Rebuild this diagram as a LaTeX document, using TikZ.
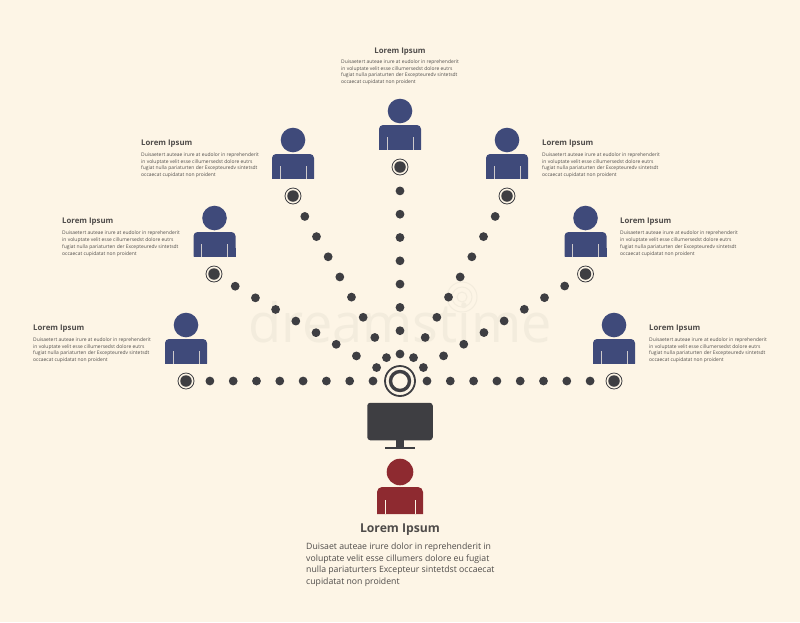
\documentclass[tikz,border=0pt]{standalone}
\usepackage{fontspec}
\setmainfont{Open Sans}
\definecolor{paper}{HTML}{FDF5E6}
\definecolor{ink}{HTML}{3E3E42}
\definecolor{copytext}{HTML}{4F4C4A}
\definecolor{navy}{HTML}{3F4A7A}
\definecolor{crimson}{HTML}{8E2A30}
\definecolor{ghost}{HTML}{F3ECDD}
\tikzset{
    ringouter/.style={circle, draw=ink, line width=0.8pt, fill=paper, minimum size=16pt, inner sep=0pt, outer sep=0pt},
    ringdisc/.style={circle, fill=ink, minimum size=11.5pt, inner sep=0pt, outer sep=0pt},
    hubouter/.style={circle, draw=ink, line width=1.8pt, fill=paper, minimum size=30pt, inner sep=0pt, outer sep=0pt},
    hubinner/.style={circle, draw=ink, line width=3.4pt, fill=paper, minimum size=19pt, inner sep=0pt, outer sep=0pt},
    dotray/.style={draw=ink, line width=8.8pt, line cap=round, dash pattern=on 0pt off 23.3pt, dash phase=11.3pt},
    headline/.style={font=\bfseries\fontsize{7.8}{9}\selectfont, text=copytext, inner sep=0pt},
    blurb/.style={font=\fontsize{4.95}{6.7}\selectfont, text=copytext, align=left, inner sep=0pt},
}
\newcommand{\smallblurb}{Duisaetert auteae irure at eudolor in reprehenderit\\in voluptate velit esse cillumersedst dolore eutrs\\fugiat nulla pariaturten der Excepteuredv sintetsdt\\occaecat cupidatat non proident}
\begin{document}
\begin{tikzpicture}[x=1pt, y=-1pt]
    \fill[paper] (0,0) rectangle (800,622);
    \useasboundingbox (0,0) rectangle (800,622);

    % faint mark behind the rays
    \node[font=\fontsize{54}{58}\selectfont, text=ghost, inner sep=0pt] (mark) at (400,322) {dreamstime};
    \foreach \rad in {5,10,15}
        \draw[ghost, line width=1pt] (462,297) circle (\rad);

    % hub and rings
    \node[hubouter] (hub) at (400,381) {};
    \node[hubinner] (hubcore) at (hub) {};
    \foreach \n/\x/\y in {a/186/381, b/214/274, c/293/196, d/400/167, e/507/196, f/585.5/274, g/614/381} {
        \node[ringouter] (ring\n) at (\x,\y) {};
        \node[ringdisc] (disc\n) at (ring\n) {};
        \draw[dotray] (hub) -- (ring\n);
    }

    % persons
    \foreach \px/\py in {186/325, 214.5/218, 293/140, 400/111, 507/140, 585.5/218, 614/325} {
        \begin{scope}[shift={(\px,\py)}]
            \fill[navy] (0,0) circle (12.3);
            \fill[navy, rounded corners=4pt] (-21,38.5) |- (21,14) [sharp corners] -- (21,38.5) -- cycle;
            \fill[navy] (-21,30) rectangle (21,38.5);
            \draw[paper!75!navy, line width=0.8pt] (-13,26) -- (-13,38.5);
            \draw[paper!75!navy, line width=0.8pt] (13,26) -- (13,38.5);
        \end{scope}
    }

    % side texts
    \foreach \n/\x/\y in {a/33/328.5, b/62/222, c/141/143.5, e/542/143.5, f/620/222, g/649/328.5} {
        \node[headline, anchor=west] (head\n) at (\x,\y) {Lorem Ipsum};
        \node[blurb, anchor=north west] (text\n) at (\x,\y+9) {\smallblurb};
    }

    % top text
    \node[headline] (headd) at (400,51.5) {Lorem Ipsum};
    \node[blurb, anchor=north west] (textd) at (341,59.5) {\smallblurb};

    % monitor
    \node[fill=ink, rounded corners=3pt, minimum width=65.5pt, minimum height=37.5pt, inner sep=0pt, outer sep=0pt] (monitor) at (400,421.5) {};
    \node[fill=ink, minimum width=8pt, minimum height=6.5pt, inner sep=0pt, outer sep=0pt, anchor=north] (neck) at (monitor.south) {};
    \node[fill=ink, minimum width=30pt, minimum height=2pt, inner sep=0pt, outer sep=0pt] (foot) at (400,448) {};

    % user
    \begin{scope}[shift={(400,472)}]
        \fill[crimson] (0,0) circle (13.3);
        \fill[crimson, rounded corners=5pt] (-23,42) |- (23,15) [sharp corners] -- (23,42) -- cycle;
        \fill[crimson] (-23,32) rectangle (23,42);
        \draw[paper, line width=0.9pt] (-15,28) -- (-15,42);
        \draw[paper, line width=0.9pt] (15,28) -- (15,42);
    \end{scope}

    \node[font=\bfseries\fontsize{12.2}{14}\selectfont, text=copytext, inner sep=0pt] (userhead) at (400,529.5) {Lorem Ipsum};
    \node[font=\fontsize{8.7}{11.7}\selectfont, text=copytext, align=left, inner sep=0pt, anchor=north west] (usertext) at (306,542.5) {Duisaet auteae irure dolor in reprehenderit in\\voluptate velit esse cillumers dolore eu fugiat\\nulla pariaturters Excepteur sintetdst occaecat\\cupidatat non proident};
\end{tikzpicture}
\end{document}
